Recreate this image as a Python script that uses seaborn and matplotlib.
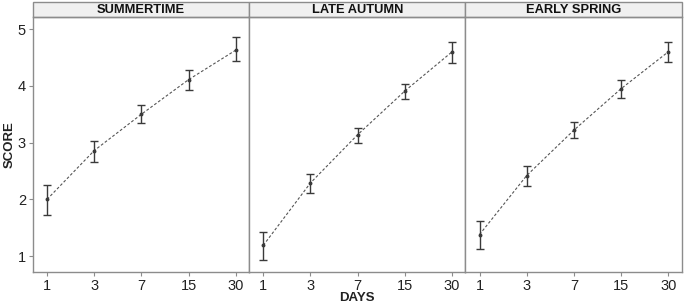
import pandas as pd
import matplotlib
matplotlib.use("Agg")
import matplotlib.pyplot as plt
import seaborn as sns
from matplotlib.patches import Rectangle

# ── Data ──────────────────────────────────────────────────────
DAYS    = ["1", "3", "7", "15", "30"]
SEASONS = ["SUMMERTIME", "LATE AUTUMN", "EARLY SPRING"]

summer_mean = [2.00, 2.86, 3.50, 4.11, 4.63]
summer_lo   = [1.73, 2.66, 3.35, 3.93, 4.43]
summer_hi   = [2.26, 3.03, 3.66, 4.28, 4.86]

autumn_mean = [1.19, 2.29, 3.14, 3.91, 4.60]
autumn_lo   = [0.94, 2.11, 2.99, 3.76, 4.41]
autumn_hi   = [1.42, 2.45, 3.26, 4.04, 4.77]

spring_mean = [1.38, 2.42, 3.22, 3.95, 4.60]
spring_lo   = [1.13, 2.24, 3.08, 3.79, 4.42]
spring_hi   = [1.62, 2.59, 3.36, 4.10, 4.78]

frames = []
for season, m, lo, hi in zip(SEASONS,
                             [summer_mean, autumn_mean, spring_mean],
                             [summer_lo, autumn_lo, spring_lo],
                             [summer_hi, autumn_hi, spring_hi]):
    frames.append(pd.DataFrame({"season": season, "days": DAYS,
                                "score": m, "lo": lo, "hi": hi}))
df = pd.concat(frames, ignore_index=True)

# ── Style ─────────────────────────────────────────────────────
sns.set_theme(style="white")
plt.rcParams["font.family"] = ["Liberation Sans", "DejaVu Sans"]
FRAME = "#8c8c8c"
INK   = "#3a3a3a"


def draw(data, color=None, **kws):
    ax = plt.gca()
    yerr = [data["score"] - data["lo"], data["hi"] - data["score"]]
    ax.errorbar(data["days"], data["score"], yerr=yerr,
                fmt="o", ms=1.8, color=INK, ecolor=INK, elinewidth=1.0,
                capsize=3, capthick=1.0, zorder=3)
    sns.lineplot(x=data["days"], y=data["score"], ax=ax, color="#555555",
                 linestyle=(0, (2.5, 1.8)), linewidth=0.8, sort=False)


g = sns.FacetGrid(df, col="season", col_order=SEASONS, sharey=True,
                  height=3.06, aspect=0.75, despine=False)
g.map_dataframe(draw)
g.figure.set_size_inches(6.85, 3.06)
g.figure.subplots_adjust(left=0.048, right=0.995, bottom=0.111,
                         top=0.944, wspace=0)

g.set_titles("")
g.set_axis_labels("", "")
ax_mid, ax_left = g.axes[0, 1], g.axes[0, 0]
ax_mid.set_xlabel("DAYS", fontsize=9.5, fontweight="bold", color="#222222")
ax_mid.xaxis.set_label_coords(0.5, -0.102)
ax_mid.xaxis.label.set_va("center")
ax_left.set_ylabel("SCORE", fontsize=9.5, fontweight="bold", color="#222222")
ax_left.yaxis.set_label_coords(-0.108, 0.5)
ax_left.yaxis.label.set_va("center")

for ax, title in zip(g.axes.flat, SEASONS):
    ax.set_xlim(-0.3, 4.28)
    ax.set_ylim(0.72, 5.21)
    ax.set_yticks([1, 2, 3, 4, 5])
    for sp in ax.spines.values():
        sp.set_color(FRAME)
        sp.set_linewidth(1.0)
    ax.tick_params(axis="both", which="both", length=3, width=0.8,
                   color=FRAME, labelsize=10.5, labelcolor="#222222", pad=2,
                   bottom=True, left=True)
    # strip
    ax.add_patch(Rectangle((0, 1.0), 1, 0.059, transform=ax.transAxes,
                           facecolor="#f0f0f0", edgecolor=FRAME,
                           linewidth=1.0, clip_on=False))
    ax.text(0.5, 1.0295, title, transform=ax.transAxes, ha="center",
            va="center", fontsize=9.3, fontweight="bold", color="#111111")

for ax in g.axes.flat[1:]:
    ax.tick_params(axis="y", left=False, labelleft=False)

g.figure.savefig("out.png", dpi=100)
